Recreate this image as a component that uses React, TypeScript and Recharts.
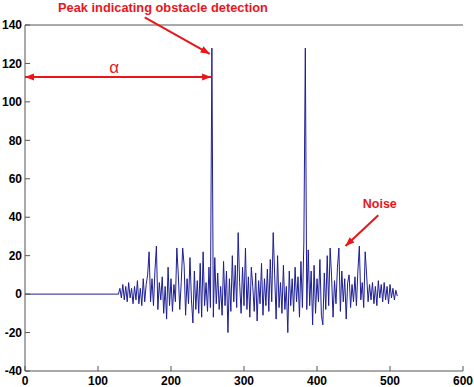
import React from 'react';
import { LineChart, Line, XAxis, YAxis, ReferenceLine, ReferenceDot } from 'recharts';

const xTicks = [0, 100, 200, 300, 400, 500, 600];
const yTicks = [-40, -20, 0, 20, 40, 60, 80, 100, 120, 140];

// quiet part before the echo, then the received signal sampled every 2
const quietStart = 0;
const signalStart = 128;
const signalStep = 2;
const signal = [
  0, 3, -2, 5, -3, 4, -4, 6, -2, 3,
  -5, 4, -3, 7, -5, 3, -6, 8, -4, 5,
  10, 22, -4, 8, -6, 12, 25, -8, 6, -3,
  9, -10, 4, -13, 14, -6, 8, -9, 5, -4,
  24, 10, -8, 6, 24, 15, -11, 8, -5, 19,
  -3, -15, 12, -8, 7, -10, 16, -12, 22, -6,
  6, -9, 14, -7, 128, -12, 19, -5, 11, -8,
  4, -11, 17, -6, 12, -20, 8, -9, 20, -4,
  15, -7, 32, 6, -10, 14, -6, 24, -8, 9,
  -12, 14, 4, -9, 11, -14, 7, -5, 16, -11,
  8, -6, 13, -9, 18, -4, 32, 10, -13, 20,
  -7, 6, -10, 15, -8, 4, -20, 12, -6, 8,
  -9, 14, -4, 9, -12, 17, -7, 27, 128, -8,
  23, -6, 12, -16, 15, -10, 8, -4, 18, -11,
  -16, 11, -8, 20, -6, 24, 9, -12, 7, -5,
  14, 24, -9, 12, -4, 8, -13, 6, 10, -7,
  5, -4, 9, -6, 12, 25, -3, 6, -7, 22,
  10, -4, 5, -3, 6, -5, 4, -6, 7, -2,
  5, -4, 6, -3, 4, -5, 5, -2, 3, -3,
  2, -1,
];

const data = [
  { x: quietStart, y: 0 },
  ...signal.map((v, i) => ({ x: signalStart + i * signalStep, y: v })),
];

const RED = '#e8161b';
const AXIS = '#555';

const head = (tx: number, ty: number, fx: number, fy: number) => {
  const a = Math.atan2(ty - fy, tx - fx);
  const len = 9;
  const w = 3.5;
  const bx = tx - len * Math.cos(a);
  const by = ty - len * Math.sin(a);
  const px = -Math.sin(a) * w;
  const py = Math.cos(a) * w;
  return `${tx},${ty} ${bx + px},${by + py} ${bx - px},${by - py}`;
};

const Arrow = (both: boolean) => (p: any) => {
  const { x1, y1, x2, y2 } = p;
  return (
    <g>
      <line x1={x1} y1={y1} x2={x2} y2={y2} stroke={RED} strokeWidth={2} />
      <polygon points={head(x2, y2, x1, y1)} fill={RED} />
      {both && <polygon points={head(x1, y1, x2, y2)} fill={RED} />}
    </g>
  );
};

const Note = (text: string, size: number, weight: string) => (p: any) => (
  <text
    x={p.cx}
    y={p.cy}
    textAnchor="middle"
    dominantBaseline="central"
    fill={RED}
    fontSize={size}
    fontWeight={weight}
    fontFamily="Liberation Sans, Arial, sans-serif"
  >
    {text}
  </text>
);

const tickStyle = { fill: '#000', fontSize: 12, fontWeight: 'bold', fontFamily: 'Liberation Sans, Arial, sans-serif' };

export default function App() {
  return (
    <div style={{ position: 'absolute', left: 0, top: 0, background: '#fff' }}>
      <LineChart width={474} height={387} data={data} margin={{ top: 25, right: 11, bottom: 0, left: 0 }}>
        <XAxis
          dataKey="x"
          type="number"
          domain={[0, 600]}
          ticks={xTicks}
          height={16}
          tickSize={-5}
          tickMargin={10}
          tick={tickStyle}
          axisLine={{ stroke: AXIS }}
          tickLine={{ stroke: AXIS }}
          interval={0}
        />
        <XAxis
          xAxisId="top"
          orientation="top"
          type="number"
          domain={[0, 600]}
          ticks={xTicks}
          height={0}
          tickSize={-5}
          tickFormatter={() => ''}
          axisLine={{ stroke: AXIS }}
          tickLine={{ stroke: AXIS }}
          interval={0}
        />
        <YAxis
          type="number"
          domain={[-40, 140]}
          ticks={yTicks}
          width={25}
          tickSize={-5}
          tickMargin={8}
          tick={tickStyle}
          axisLine={{ stroke: AXIS }}
          tickLine={{ stroke: AXIS }}
          interval={0}
        />
        <YAxis
          yAxisId="r"
          orientation="right"
          type="number"
          domain={[-40, 140]}
          ticks={yTicks}
          width={0}
          tickSize={-5}
          tickFormatter={() => ''}
          axisLine={{ stroke: AXIS }}
          tickLine={{ stroke: AXIS }}
          interval={0}
        />
        {/* top edge of the box */}
        <ReferenceLine y={140} stroke={AXIS} ifOverflow="visible" />
        <Line
          type="linear"
          dataKey="y"
          stroke="#1e1e96"
          strokeWidth={1}
          dot={false}
          isAnimationActive={false}
        />
        <ReferenceLine
          segment={[{ x: 0, y: 113 }, { x: 255, y: 113 }]}
          ifOverflow="visible"
          shape={Arrow(true)}
        />
        <ReferenceLine
          segment={[{ x: 164, y: 144 }, { x: 253, y: 125 }]}
          ifOverflow="visible"
          shape={Arrow(false)}
        />
        <ReferenceLine
          segment={[{ x: 484, y: 41 }, { x: 439, y: 25 }]}
          ifOverflow="visible"
          shape={Arrow(false)}
        />
        <ReferenceDot x={189} y={149} r={0} ifOverflow="visible" shape={Note('Peak indicating obstacle detection', 12.8, 'bold')} />
        <ReferenceDot x={122} y={118} r={0} ifOverflow="visible" shape={Note('α', 17, 'normal')} />
        <ReferenceDot x={486} y={47} r={0} ifOverflow="visible" shape={Note('Noise', 12.5, 'bold')} />
      </LineChart>
    </div>
  );
}
